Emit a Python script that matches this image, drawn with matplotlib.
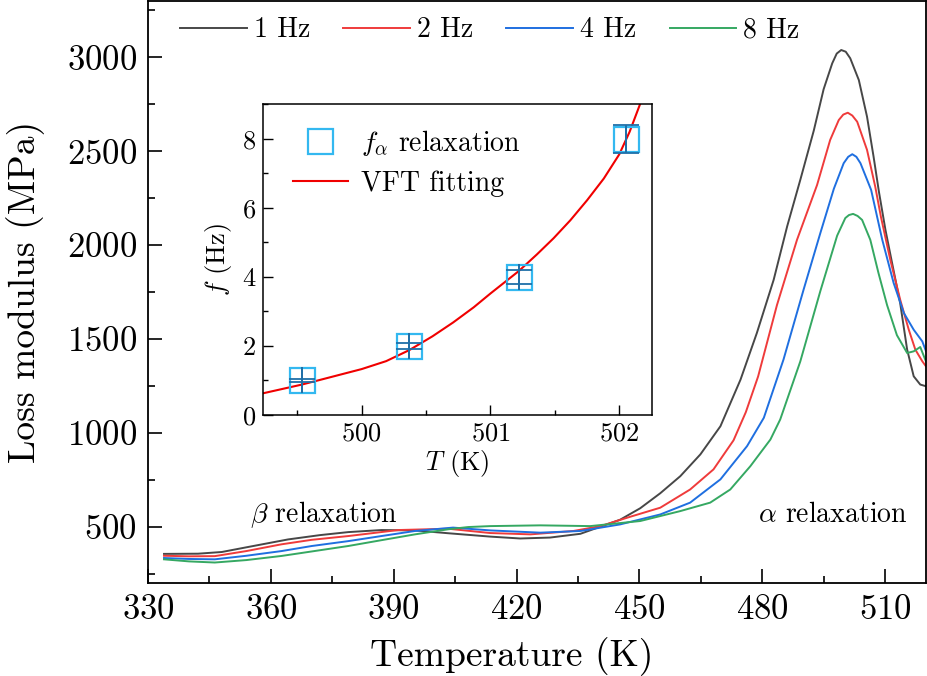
import matplotlib
matplotlib.use("Agg")
import matplotlib.pyplot as plt
from matplotlib.ticker import MultipleLocator

plt.rcParams['font.family'] = 'serif'
plt.rcParams['font.serif'] = ['cmr10']
plt.rcParams['mathtext.fontset'] = 'cm'
plt.rcParams['axes.unicode_minus'] = False
plt.rcParams['axes.formatter.use_mathtext'] = True

# ---- main data: loss modulus (MPa) vs temperature (K) ----
T_1hz = [333.9, 342.2, 348.0, 354.5, 364.2, 372.0, 378.9, 387.0, 395.2, 403.3, 413.6,
         420.9, 428.2, 435.6, 440.5, 445.3, 450.2, 455.1, 460.0, 464.9, 469.8, 474.7,
         478.7, 482.8, 486.1, 489.3, 492.6, 495.0, 497.1, 498.2, 499.3, 500.4, 501.5,
         503.6, 505.6, 507.2, 508.5, 510.1, 511.3, 513.7, 515.4, 517.0, 518.6, 520.0]
M_1hz = [355, 356, 365, 392, 432, 455, 471, 482, 480, 465, 447,
         437, 442, 462, 500, 537, 598, 678, 769, 885, 1035, 1283,
         1532, 1815, 2100, 2347, 2610, 2830, 2968, 3020, 3039, 3030, 2995,
         2879, 2684, 2471, 2285, 2081, 1950, 1690, 1443, 1301, 1257, 1248]

T_2hz = [333.9, 340.0, 346.3, 354.0, 362.6, 370.0, 378.9, 391.1, 403.3, 413.6, 423.4,
         433.9, 440.5, 447.8, 455.1, 462.4, 468.1, 473.0, 476.0, 479.0, 483.6, 488.5,
         493.4, 496.6, 498.7, 499.8, 500.9, 502.0, 503.2, 505.6, 507.6, 509.0, 511.3,
         513.7, 515.8, 517.4, 519.1, 520.0]
M_2hz = [345, 342, 343, 370, 406, 430, 450, 482, 489, 466, 459,
         477, 503, 553, 601, 698, 805, 960, 1110, 1300, 1680, 2028,
         2320, 2560, 2666, 2695, 2705, 2690, 2657, 2507, 2312, 2150, 1920,
         1709, 1549, 1443, 1381, 1354]

T_4hz = [333.9, 340.0, 346.3, 354.0, 362.6, 370.0, 378.9, 387.0, 395.2, 404.5, 413.6,
         425.8, 435.6, 445.3, 455.1, 462.4, 469.8, 476.3, 480.4, 485.2, 490.1, 494.2,
         497.5, 499.9, 501.0, 502.0, 503.0, 504.0, 506.6, 509.3, 512.1, 514.6, 517.0,
         519.1, 520.0]
M_4hz = [333, 328, 326, 345, 370, 397, 423, 450, 477, 495, 480,
         468, 477, 512, 565, 628, 752, 929, 1080, 1390, 1762, 2064,
         2300, 2436, 2470, 2484, 2470, 2436, 2294, 2030, 1798, 1638, 1549,
         1487, 1435]

T_8hz = [333.9, 340.0, 346.3, 354.0, 362.6, 370.0, 378.9, 387.0, 395.2, 403.3, 408.2,
         413.6, 425.8, 438.0, 450.2, 460.0, 467.3, 472.2, 477.1, 482.0, 484.4, 489.3,
         494.2, 498.3, 500.3, 501.2, 502.2, 503.3, 504.4, 506.4, 508.4, 510.5, 512.9,
         515.4, 517.0, 518.6, 520.0]
M_8hz = [326, 315, 309, 322, 344, 368, 397, 428, 459, 486, 498,
         503, 507, 503, 530, 583, 628, 698, 822, 964, 1071, 1380,
         1755, 2050, 2144, 2160, 2166, 2155, 2134, 2028, 1851, 1680, 1520,
         1425, 1434, 1457, 1380]

series_labels = ['1 Hz', '2 Hz', '4 Hz', '8 Hz']
series_colors = ['#474747', '#ef3b3b', '#1f6fe0', '#35a862']

# ---- inset data ----
T_alpha = [499.534, 500.37, 501.22, 502.05]
f_alpha = [1, 2, 4, 8]
f_err = [0.05, 0.1, 0.2, 0.4]
T_err = [0.0, 0.0, 0.0, 0.0]
T_vft = [499.236, 499.534, 499.68, 500.0, 500.19, 500.37, 500.55, 500.71, 500.87, 501.0,
         501.22, 501.36, 501.49, 501.62, 501.75, 501.88, 502.0, 502.08, 502.16]
f_vft = [0.63, 0.88, 1.02, 1.33, 1.56, 1.88, 2.28, 2.68, 3.12, 3.52,
         4.17, 4.65, 5.12, 5.64, 6.22, 6.85, 7.55, 8.20, 8.99]

fig = plt.figure(figsize=(9.27, 6.76), dpi=100)
ax = fig.add_axes([0.1597, 0.1376, 0.8392, 0.8609])

for T, M, lab, c in zip([T_1hz, T_2hz, T_4hz, T_8hz], [M_1hz, M_2hz, M_4hz, M_8hz],
                        series_labels, series_colors):
    ax.plot(T, M, color=c, lw=1.4, label=lab)

ax.set_xlim(330, 520)
ax.set_ylim(200, 3300)
ax.xaxis.set_major_locator(MultipleLocator(30))
ax.xaxis.set_minor_locator(MultipleLocator(15))
ax.yaxis.set_major_locator(MultipleLocator(500))
ax.yaxis.set_minor_locator(MultipleLocator(250))
ax.tick_params(which='both', direction='in', top=False, right=False, width=1.2)
ax.tick_params(which='major', length=10, labelsize=25, pad=8)
ax.tick_params(which='minor', length=5)
for s in ax.spines.values():
    s.set_linewidth(1.3)
ax.set_xlabel('Temperature (K)', fontsize=27, labelpad=8)
ax.xaxis.label.set_x(0.468)
ax.set_ylabel('Loss modulus (MPa)', fontsize=27, labelpad=16)

ax.text(355, 525, r'$\beta$ relaxation', fontsize=20, ha='left', va='baseline')
ax.text(479, 525, r'$\alpha$ relaxation', fontsize=20, ha='left', va='baseline')

ax.legend(loc='center left', bbox_to_anchor=(0.041, 0.950), ncol=4, frameon=False,
          fontsize=20, handlelength=2.4, handletextpad=0.25, columnspacing=1.2,
          borderpad=0, borderaxespad=0)

# ---- inset ----
ins = fig.add_axes([0.2840, 0.3861, 0.4196, 0.4596])
ins.plot(T_vft, f_vft, color='#f00000', lw=1.5, label='VFT fitting', zorder=2)
ins.plot(T_alpha, f_alpha, ls='none', marker='s', ms=18, mfc='none', mec='#33b8f0',
         mew=1.6, label=r'$f_\alpha$ relaxation', zorder=3)
ins.errorbar(T_alpha, f_alpha, yerr=f_err, xerr=T_err, fmt='none', ecolor='#1f6fa8',
             elinewidth=1.3, capsize=9.5, capthick=1.3, zorder=4)
ins.set_xlim(499.236, 502.256)
ins.set_ylim(0, 9)
ins.xaxis.set_major_locator(MultipleLocator(1))
ins.xaxis.set_minor_locator(MultipleLocator(0.5))
ins.yaxis.set_major_locator(MultipleLocator(2))
ins.yaxis.set_minor_locator(MultipleLocator(1))
ins.tick_params(which='both', direction='in', top=False, right=False, width=1.0)
ins.tick_params(which='major', length=7, labelsize=19, pad=5)
ins.tick_params(which='minor', length=3.5)
for s in ins.spines.values():
    s.set_linewidth(1.1)
ins.set_xlabel(r'$T$ (K)', fontsize=19, labelpad=2)
ins.set_ylabel(r'$f$ (Hz)', fontsize=19, labelpad=6)
h, l = ins.get_legend_handles_labels()
ins.legend([h[1], h[0]], [l[1], l[0]], loc='center left', bbox_to_anchor=(0.0756, 0.8137),
           frameon=False, fontsize=20, handlelength=2.0, handletextpad=0.45,
           borderpad=0, borderaxespad=0, labelspacing=0.45)

fig.savefig('out.png', dpi=100)
